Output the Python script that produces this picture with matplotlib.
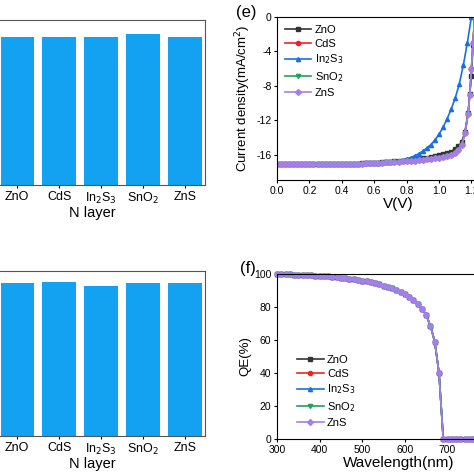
import matplotlib
matplotlib.use("Agg")
import matplotlib.pyplot as plt

plt.rcParams['font.family'] = ['Liberation Sans', 'DejaVu Sans']

layers = ["ZnO", "CdS", "In$_2$S$_3$", "SnO$_2$", "ZnS"]
bar_top = [22.4, 22.4, 22.4, 22.9, 22.4]
bar_bot = [23.2, 23.3, 22.7, 23.2, 23.2]

V_main = [0.0, 0.025, 0.05, 0.075, 0.1, 0.125, 0.15, 0.175, 0.2, 0.225, 0.25, 0.275, 0.3, 0.325, 0.35,
          0.375, 0.4, 0.425, 0.45, 0.475, 0.5, 0.525, 0.55, 0.575, 0.6, 0.625, 0.65, 0.675, 0.7, 0.725,
          0.75, 0.775, 0.8, 0.825, 0.85, 0.875, 0.9, 0.925, 0.95, 0.975, 1.0, 1.025, 1.05, 1.075, 1.1,
          1.12, 1.14, 1.16, 1.18, 1.19, 1.2, 1.21, 1.22]
J_main = [-17.1, -17.1, -17.1, -17.1, -17.1, -17.1, -17.1, -17.1, -17.1, -17.1, -17.08, -17.08, -17.07, -17.07, -17.06,
          -17.05, -17.04, -17.03, -17.02, -17.01, -17.0, -16.99, -16.97, -16.95, -16.93, -16.91, -16.89, -16.87, -16.84, -16.81,
          -16.78, -16.75, -16.72, -16.68, -16.64, -16.6, -16.55, -16.5, -16.44, -16.37, -16.3, -16.2, -16.1, -15.95, -15.75,
          -15.4, -14.8, -13.5, -11.2, -9.0, -6.0, -3.0, 0.0]
J_zno = [-17.1, -17.1, -17.1, -17.1, -17.1, -17.1, -17.1, -17.1, -17.1, -17.1, -17.08, -17.08, -17.07, -17.07, -17.06,
         -17.05, -17.04, -17.03, -17.02, -17.01, -17.0, -16.98, -16.96, -16.94, -16.92, -16.89, -16.86, -16.83, -16.79, -16.75,
         -16.71, -16.67, -16.62, -16.57, -16.51, -16.45, -16.38, -16.3, -16.22, -16.13, -16.03, -15.92, -15.78, -15.6, -15.3,
         -15.0, -14.5, -13.3, -11.1, -8.9, -6.8, -3.2, 0.0]
V_in = [0.0, 0.025, 0.05, 0.075, 0.1, 0.125, 0.15, 0.175, 0.2, 0.225, 0.25, 0.275, 0.3, 0.325, 0.35,
        0.375, 0.4, 0.425, 0.45, 0.475, 0.5, 0.525, 0.55, 0.575, 0.6, 0.625, 0.65, 0.675, 0.7, 0.725,
        0.75, 0.775, 0.8, 0.825, 0.85, 0.875, 0.9, 0.925, 0.95, 0.975, 1.0, 1.025, 1.05, 1.075, 1.1,
        1.125, 1.15, 1.175, 1.2]
J_in = [-17.1, -17.1, -17.1, -17.1, -17.1, -17.1, -17.1, -17.1, -17.1, -17.1, -17.08, -17.08, -17.07, -17.07, -17.06,
        -17.05, -17.04, -17.03, -17.02, -17.01, -17.0, -16.98, -16.96, -16.94, -16.92, -16.89, -16.86, -16.82, -16.77, -16.71,
        -16.64, -16.55, -16.44, -16.3, -16.1, -15.85, -15.55, -15.2, -14.8, -14.25, -13.6, -12.8, -11.8, -10.7, -9.4,
        -7.8, -5.6, -3.0, 0.0]

wl = [300, 310, 320, 330, 340, 350, 360, 370, 380, 390, 400, 410, 420, 430, 440, 450, 460, 470, 480, 490,
      500, 510, 520, 530, 540, 550, 560, 570, 580, 590, 600, 610, 620, 630, 640, 650, 660, 670, 680, 690,
      700, 710, 720, 730, 740, 750, 760, 770, 780, 790, 800]
qe = [99.8, 99.8, 99.7, 99.7, 99.6, 99.5, 99.4, 99.3, 99.2, 99.0, 98.9, 98.7, 98.5, 98.3, 98.0, 97.8, 97.5, 97.2, 96.8, 96.4,
      96.0, 95.5, 95.0, 94.4, 93.7, 93.0, 92.2, 91.3, 90.2, 89.0, 87.6, 86.0, 84.0, 82.0, 79.0, 75.0, 68.5, 59.0, 40.0, 0.0,
      0.0, 0.0, 0.0, 0.0, 0.0, 0.0, 0.0, 0.0, 0.0, 0.0, 0.0]

W = H = 474
fig = plt.figure(figsize=(4.74, 4.74), dpi=100)

def ax_px(l, t, r, b):
    return fig.add_axes([l / W, 1 - b / H, (r - l) / W, (b - t) / H])

bar_color = '#13A1F1'
for (t, b, vals) in [(20, 185, bar_top), (271, 436, bar_bot)]:
    ax = ax_px(-20, t, 205, b)
    ax.bar(range(5), vals, width=0.8, color=bar_color)
    ax.set_xlim(-0.89, 4.48)
    ax.set_ylim(0, 25)
    ax.set_xticks(range(5))
    ax.set_xticklabels(layers, fontsize=9)
    ax.tick_params(axis='x', length=2, pad=2)
    ax.set_yticks([])
    ax.set_xlabel("N layer", fontsize=10.5, labelpad=0)
    for s in ax.spines.values():
        s.set_color('#555555'); s.set_linewidth(0.8)

series = [
    ("ZnO", '#333333', 's'),
    ("CdS", '#ee2222', 'o'),
    ("In$_2$S$_3$", '#1a6fe0', '^'),
    ("SnO$_2$", '#22a055', 'v'),
    ("ZnS", '#a47fe8', 'D'),
]

# (e)
ax = ax_px(277, 17, 520, 180)
for name, c, m in series:
    if name.startswith("In"):
        x, y = V_in, J_in
    elif name == "ZnO":
        x, y = V_main, J_zno
    else:
        x, y = V_main, J_main
    ax.plot(x, y, color=c, marker=m, ms=3, lw=1.2, label=name)
ax.set_xlim(0, 1.5)
ax.set_ylim(-18.9, 0)
ax.set_xticks([0.0, 0.2, 0.4, 0.6, 0.8, 1.0, 1.2])
ax.set_yticks([0, -4, -8, -12, -16])
ax.set_yticklabels(['0', '-4', '-8', '-12', '-16'])
ax.tick_params(labelsize=7.5, length=2, pad=2)
ax.set_xlabel("V(V)", fontsize=11, labelpad=1)
ax.set_ylabel("Current density(mA/cm$^2$)", fontsize=9.5, labelpad=2)
ax.legend(loc='upper left', fontsize=8, frameon=False, handlelength=2.4,
          labelspacing=0.35, borderaxespad=0.3, handletextpad=0.3)
fig.text(236 / W, 1 - 12 / H, "(e)", fontsize=12, va='center')

# (f)
ax = ax_px(277, 274, 520, 439)
for name, c, m in series:
    ax.plot(wl, qe, color=c, marker=m, ms=3, lw=1.2, label=name, clip_on=False)
ax.set_xlim(300, 870)
ax.set_ylim(0, 100)
ax.set_xticks([300, 400, 500, 600, 700])
ax.set_yticks([0, 20, 40, 60, 80, 100])
ax.tick_params(labelsize=7.5, length=2, pad=2)
ax.set_xlabel("Wavelength(nm)", fontsize=11, labelpad=1)
ax.set_ylabel("QE(%)", fontsize=9.5, labelpad=2)
ax.legend(loc='lower left', fontsize=8, frameon=False, handlelength=2.4,
          labelspacing=0.35, borderaxespad=0.3, bbox_to_anchor=(0.05, 0.02), handletextpad=0.3)
fig.text(240 / W, 1 - 268 / H, "(f)", fontsize=12, va='center')

fig.savefig("out.png", dpi=100)
